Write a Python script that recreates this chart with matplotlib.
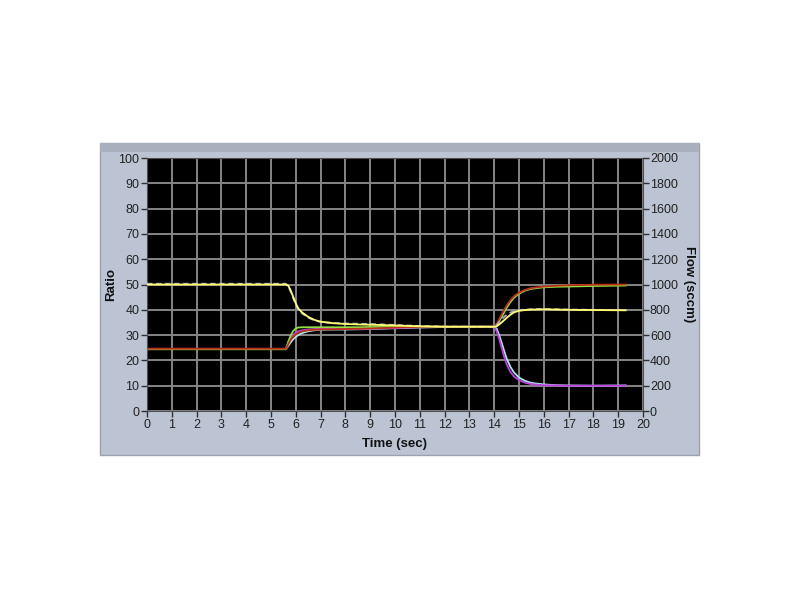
import matplotlib
matplotlib.use("Agg")
import matplotlib.pyplot as plt
from matplotlib.patches import Rectangle

plt.rcParams['font.family'] = ['Liberation Sans', 'DejaVu Sans']

# ---- data ----
time_s = [0, 5.6, 5.7, 5.8, 5.9, 6.0, 6.1, 6.25, 6.5, 6.75, 7.0, 7.5, 8, 8.5, 9, 10, 11, 12, 13, 14.0,
          14.1, 14.2, 14.3, 14.4, 14.5, 14.65, 14.8, 15.0, 15.25, 15.5, 16, 16.5, 17, 18, 19.3]

yellow = [50, 50, 49.5, 47.5, 45, 42.5, 40.5, 39, 37.2, 36.0, 35.3, 34.7, 34.4, 34.2, 34.1, 33.8, 33.5, 33.3, 33.3, 33.3,
          33.5, 34.2, 35.0, 35.9, 36.8, 38.0, 39.0, 39.6, 39.9, 40.1, 40.2, 40.1, 40.0, 39.9, 39.8]
gray = [50.3, 50.3, 49.3, 47, 44.5, 42, 40.2, 38.6, 36.9, 35.8, 35.2, 34.8, 34.6, 34.5, 34.4, 34.0, 33.6, 33.4, 33.3, 33.3,
        34.0, 35.2, 36.3, 37.2, 38.0, 38.9, 39.5, 39.9, 40.1, 40.2, 40.3, 40.2, 40.1, 40.0, 39.9]
red = [24.6, 24.6, 26.5, 28.3, 29.5, 30.3, 30.9, 31.5, 31.9, 32.1, 32.2, 32.3, 32.4, 32.5, 32.6, 33.0, 33.3, 33.4, 33.3, 33.3,
       34.5, 36.3, 38.2, 40.0, 41.7, 43.8, 45.4, 46.8, 47.9, 48.6, 49.2, 49.5, 49.7, 49.9, 50.0]
green = [24.4, 24.4, 27.5, 30.0, 31.7, 32.6, 33.0, 33.1, 33.1, 33.1, 33.1, 33.1, 33.1, 33.1, 33.2, 33.2, 33.3, 33.3, 33.3, 33.3,
         34.0, 35.5, 37.2, 39.0, 40.8, 43.0, 44.8, 46.4, 47.6, 48.3, 48.9, 49.1, 49.2, 49.4, 49.6]
purple = [24.6, 24.6, 26.8, 28.8, 30.2, 31.0, 31.5, 31.9, 32.2, 32.4, 32.5, 32.5, 32.5, 32.5, 32.6, 32.8, 33.1, 33.2, 33.3, 33.3,
          31.5, 28.5, 25.0, 21.5, 18.5, 15.5, 13.6, 12.2, 11.2, 10.6, 10.2, 10.1, 10.0, 10.0, 10.0]
cyan = [24.5, 24.5, 25.8, 27.2, 28.4, 29.3, 30.0, 30.8, 31.5, 31.9, 32.1, 32.2, 32.2, 32.3, 32.4, 32.7, 33.0, 33.2, 33.3, 33.3,
        32.5, 30.0, 27.0, 23.8, 20.8, 17.5, 15.2, 13.2, 11.9, 11.1, 10.5, 10.2, 10.1, 10.0, 10.1]

x_ticks = list(range(0, 21))
ratio_ticks = list(range(0, 101, 10))
flow_ticks = list(range(0, 2001, 200))

# ---- figure ----
fig = plt.figure(figsize=(8, 6), dpi=100)
fig.patch.set_facecolor('white')

# instrument panel background
fig.patches.append(Rectangle((100/800, 1-455/600), 599/800, 312/600, transform=fig.transFigure,
                             facecolor='#bcc4d3', edgecolor='#9aa2b0', linewidth=1, zorder=-2))
fig.patches.append(Rectangle((100/800, 1-152/600), 599/800, 9/600, transform=fig.transFigure,
                             facecolor='#a9b0bd', edgecolor='none', zorder=-1))

ax = fig.add_axes([147/800, 1-411/600, 496/800, 253/600])
ax.set_facecolor('black')
ax.set_xlim(0, 20)
ax.set_ylim(0, 100)
ax.set_xticks(x_ticks)
ax.set_yticks(ratio_ticks)
ax.grid(True, color='#858585', linewidth=1.4)
ax.set_axisbelow(True)
for sp in ax.spines.values():
    sp.set_color('#505050')
    sp.set_linewidth(0.8)
ax.tick_params(axis='both', direction='out', length=4, width=1, color='#303030',
               labelsize=9, labelcolor='#222222', pad=1.5)

lw = 1.3
ax.plot(time_s, cyan, color='#a8e8e8', lw=lw, zorder=3)
ax.plot(time_s, purple, color='#c040e0', lw=lw, zorder=4)
ax.plot(time_s, green, color='#90e040', lw=lw, zorder=5)
ax.plot(time_s, red, color='#b83018', lw=lw, zorder=6)
ax.plot(time_s, gray, color='#a8a8c8', lw=lw, ls=(0, (3, 2)), zorder=7)
ax.plot(time_s, yellow, color='#ffff70', lw=lw, zorder=8)

ax.set_xlabel('Time (sec)', fontsize=9.5, fontweight='bold', color='#111111', labelpad=5)
ax.set_ylabel('Ratio', fontsize=9.5, fontweight='bold', color='#111111', labelpad=1)

ax2 = ax.twinx()
ax2.set_ylim(0, 2000)
ax2.set_yticks(flow_ticks)
ax2.tick_params(axis='y', direction='out', length=4, width=1, color='#303030',
                labelsize=9, labelcolor='#222222', pad=1)
for sp in ax2.spines.values():
    sp.set_visible(False)
ax2.set_ylabel('Flow (sccm)', fontsize=9.5, fontweight='bold', color='#111111',
               rotation=-90, labelpad=12)

fig.savefig('out.png', dpi=100)
